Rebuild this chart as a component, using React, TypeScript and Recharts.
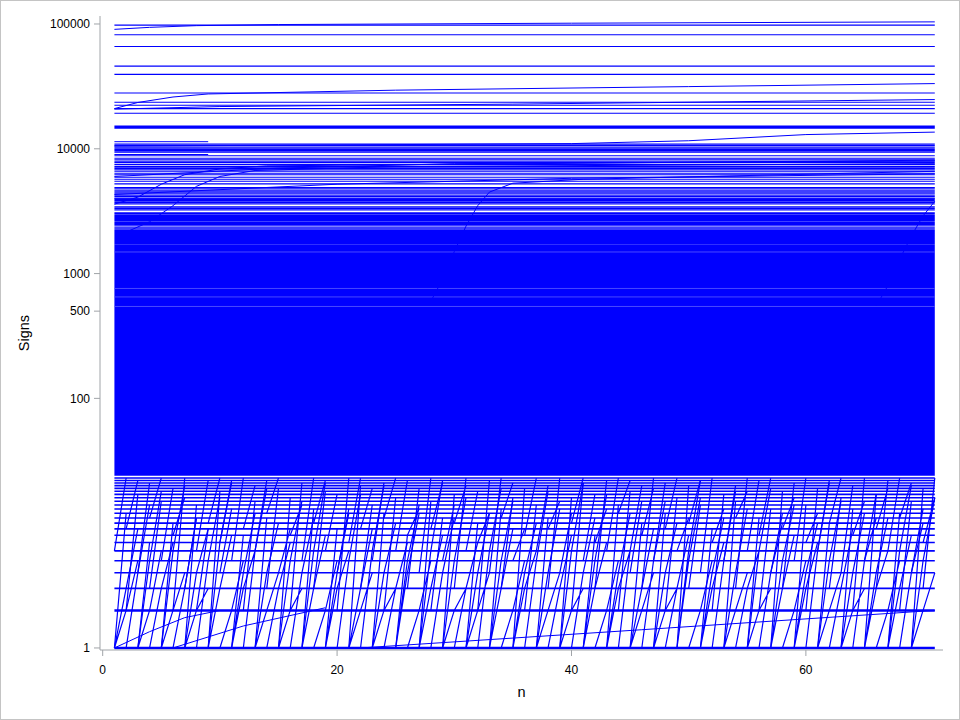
import { Area, ComposedChart, Line, ReferenceArea, XAxis, YAxis } from "recharts";

const X_TICKS = [0, 20, 40, 60];
const Y_TICKS = [1, 100, 500, 1000, 10000, 100000];

// flat series, values (n = 1..71)
const topLevels = [
  98000, 82000, 66000, 46000, 39500, 28000, 23600, 22300, 21000, 19250, 15200, 14900, 14600,
  10900, 10600, 10300, 10000, 9800, 9600, 9380, 8800, 8400, 8170, 7950, 7740, 7460, 7190, 7000,
  6950, 6800, 6600, 6370, 6200, 5910, 5700, 5500, 5230, 4900, 4780, 4650, 4520, 4400, 4250, 4140,
  4020,
];
const shortLevels = [11400, 9000]; // stop at n = 9
const midLevels = [
  1720, 1750, 1770, 1810, 1850, 1890, 1935, 1980, 2020, 2070, 2120, 2170, 2220, 2280, 2360, 2450,
  2510, 2570, 2640, 2700, 2770, 2840, 2910, 2990, 3070, 3240, 3330, 3420, 3620, 3730, 3850, 3960,
];
const paleLevels = [1490, 760, 650, 545];
const lowLevelsThick = [1, 2];
const lowLevels = [3, 4, 5, 6, 7, 8, 9, 10, 11, 12, 13, 14, 15, 16, 17, 18, 19, 20, 21, 22, 23];
const denseBand = [24, 1700];

// rising series: [n, signs]
const riseA = [[1, 90600], [4, 94000], [8, 97000], [15, 99000], [40, 101500], [71, 104000]];
const riseB = [[1, 21000], [3, 23500], [6, 26000], [9, 27500], [25, 29500], [50, 31500], [71, 33300]];
const riseC = [[1, 20800], [10, 21800], [35, 22800], [71, 24800]];
const riseD = [[1, 10500], [40, 11000], [50, 11600], [60, 13000], [71, 13600]];
const riseE = [[1, 3600], [3, 4100], [5, 5200], [7, 6200], [10, 6900], [14, 7300], [71, 8100]];
const riseF = [[2, 2150], [4, 2600], [6, 3500], [8, 5000], [10, 6000], [13, 6700], [25, 7200], [71, 7600]];
const riseG = [[28, 600], [29, 900], [30, 1500], [31, 2400], [32, 3500], [33, 4500], [35, 5300], [41, 5700], [71, 6600]];
const riseH = [[66, 550], [67, 800], [68, 1300], [69, 2000], [70, 2900], [71, 3800]];
const riseI = [[1, 6000], [15, 7000], [30, 7600], [71, 8000]];
const riseJ = [[1, 4300], [20, 5200], [40, 5800], [71, 6300]];
const creepA = [[1, 1], [4, 1.35], [7, 1.75], [10, 2]];
const creepB = [[6, 1], [12, 1.5], [19, 2.1]];
const creepC = [[22, 1], [46, 1.4], [71, 2]];

// short climbs from 1: [start n, value at n+1, value at n+2]
const climbs = [
  [1, 3, 9], [1, 2, 5], [2, 4, 14], [3, 2, 6], [3, 5, 18], [4, 3, 7], [5, 2, 4], [5, 6, 20],
  [6, 3, 11], [7, 4, 9], [7, 2, 3], [8, 5, 16], [9, 3, 8], [9, 7, 22], [10, 2, 5], [11, 4, 12],
  [11, 3, 6], [12, 6, 19], [13, 2, 4], [13, 4, 10], [14, 3, 7], [15, 5, 15], [15, 2, 3], [16, 4, 11],
  [17, 3, 8], [17, 6, 21], [18, 2, 5], [19, 4, 13], [19, 3, 6], [20, 5, 17], [21, 2, 4], [21, 3, 9],
  [22, 6, 20], [23, 4, 10], [23, 2, 3], [24, 3, 7], [25, 5, 14], [25, 4, 12], [26, 2, 5], [27, 3, 8],
  [27, 6, 22], [28, 4, 11], [29, 2, 3], [29, 5, 16], [30, 3, 7], [31, 4, 12], [31, 2, 4], [32, 6, 19],
  [33, 3, 9], [33, 5, 15], [34, 2, 5], [35, 4, 10], [35, 3, 6], [36, 5, 18], [37, 2, 4], [37, 4, 13],
  [38, 3, 8], [39, 6, 21], [39, 2, 3], [40, 4, 11], [41, 3, 7], [41, 5, 17], [42, 2, 5], [43, 4, 12],
  [43, 3, 6], [44, 6, 20], [45, 2, 4], [45, 3, 9], [46, 5, 15], [47, 4, 10], [47, 2, 3], [48, 3, 8],
  [49, 5, 16], [49, 6, 22], [50, 2, 5], [51, 4, 11], [51, 3, 7], [52, 5, 18], [53, 2, 4], [53, 4, 13],
  [54, 3, 6], [55, 6, 19], [55, 2, 3], [56, 4, 12], [57, 3, 8], [57, 5, 14], [58, 2, 5], [59, 4, 10],
  [59, 3, 7], [60, 6, 21], [61, 2, 4], [61, 5, 15], [62, 3, 9], [63, 4, 12], [63, 2, 3], [64, 5, 17],
  [65, 3, 6], [65, 4, 11], [66, 2, 5], [67, 6, 20], [67, 3, 8], [68, 4, 10], [69, 2, 4], [69, 5, 16],
];

// one-step jumps: [start n, value at n, value at n+1]
const jumps = [
  [1, 1, 12], [1, 6, 23], [2, 2, 17], [2, 9, 22], [3, 1, 7], [3, 4, 21], [4, 3, 15], [4, 11, 23],
  [5, 1, 10], [5, 5, 19], [6, 2, 23], [6, 8, 16], [7, 1, 14], [7, 3, 11], [8, 6, 22], [8, 2, 9],
  [9, 1, 18], [9, 10, 23], [10, 4, 13], [10, 7, 21], [11, 1, 8], [11, 5, 23], [12, 2, 15], [12, 9, 20],
  [13, 1, 11], [13, 6, 22], [14, 3, 19], [14, 12, 23], [15, 1, 16], [15, 4, 9], [16, 2, 21], [16, 8, 14],
  [17, 1, 13], [17, 5, 23], [18, 3, 18], [18, 10, 22], [19, 1, 9], [19, 6, 17], [20, 2, 23], [20, 4, 12],
  [21, 1, 20], [21, 7, 23], [22, 3, 14], [22, 9, 19], [23, 1, 12], [23, 5, 21], [24, 2, 16], [24, 11, 23],
  [25, 1, 8], [25, 6, 22], [26, 3, 19], [26, 8, 13], [27, 1, 15], [27, 4, 23], [28, 2, 11], [28, 9, 21],
  [29, 1, 17], [29, 5, 14], [30, 3, 23], [30, 10, 20], [31, 1, 10], [31, 6, 18], [32, 2, 22], [32, 7, 12],
  [33, 1, 13], [33, 4, 23], [34, 3, 16], [34, 11, 21], [35, 1, 19], [35, 5, 9], [36, 2, 14], [36, 8, 23],
  [37, 1, 11], [37, 6, 20], [38, 3, 23], [38, 9, 15], [39, 1, 16], [39, 4, 12], [40, 2, 21], [40, 10, 23],
  [41, 1, 8], [41, 5, 17], [42, 3, 22], [42, 7, 13], [43, 1, 14], [43, 6, 23], [44, 2, 18], [44, 12, 22],
  [45, 1, 10], [45, 4, 15], [46, 3, 23], [46, 8, 19], [47, 1, 12], [47, 5, 21], [48, 2, 16], [48, 9, 23],
  [49, 1, 20], [49, 6, 11], [50, 3, 14], [50, 10, 22], [51, 1, 9], [51, 4, 23], [52, 2, 17], [52, 7, 13],
  [53, 1, 15], [53, 5, 20], [54, 3, 23], [54, 11, 18], [55, 1, 11], [55, 6, 22], [56, 2, 13], [56, 8, 23],
  [57, 1, 18], [57, 4, 10], [58, 3, 21], [58, 9, 16], [59, 1, 14], [59, 5, 23], [60, 2, 19], [60, 7, 12],
  [61, 1, 10], [61, 6, 22], [62, 3, 16], [62, 10, 23], [63, 1, 13], [63, 4, 20], [64, 2, 23], [64, 8, 15],
  [65, 1, 17], [65, 5, 11], [66, 3, 22], [66, 9, 19], [67, 1, 12], [67, 6, 23], [68, 2, 15], [68, 11, 21],
  [69, 1, 19], [69, 4, 13], [70, 3, 23], [70, 7, 16],
];

const BLUE = "#0000ff";
const PALE = "#5a5aff";
const AXIS = "#a0a4a8";
const FONT = "'Liberation Sans', Arial, sans-serif";

const flat = (levels: number[], from = 1, to = 71) =>
  levels.flatMap((v) => [{ n: from, v }, { n: to, v }, { n: to, v: null }]);
const pts = (p: number[][]) => p.map(([n, v]) => ({ n, v }));
const climbData = climbs.flatMap(([s, a, b]) => [
  { n: s, v: 1 },
  { n: s + 1, v: a },
  { n: s + 2, v: b },
  { n: s + 2, v: null },
]);
const jumpData = jumps.flatMap(([s, a, b]) => [
  { n: s, v: a },
  { n: s + 1, v: b },
  { n: s + 1, v: null },
]);
const bandData = [{ n: 1, band: denseBand }, { n: 71, band: denseBand }];

const curves = [riseA, riseB, riseC, riseD, riseE, riseF, riseG, riseH, riseI, riseJ, creepA, creepB, creepC];

function line(key: string, data: any[], width = 1, color = BLUE) {
  return (
    <Line
      key={key}
      data={data}
      dataKey="v"
      type="linear"
      stroke={color}
      strokeWidth={width}
      dot={false}
      activeDot={false}
      connectNulls={false}
      isAnimationActive={false}
    />
  );
}

export default function App() {
  return (
    <div
      style={{
        position: "fixed",
        left: 0,
        top: 0,
        width: 960,
        height: 720,
        boxSizing: "border-box",
        border: "1px solid #c4c4c4",
        background: "#fff",
        fontFamily: FONT,
      }}
    >
      <ComposedChart width={958} height={718} margin={{ top: 15, right: 16, bottom: 39, left: 0 }}>
        <XAxis
          type="number"
          dataKey="n"
          domain={[-0.23, 71.7]}
          ticks={X_TICKS}
          allowDataOverflow
          height={30}
          tickSize={6}
          tickMargin={9}
          stroke={AXIS}
          tick={{ fill: "#000", fontSize: 12, fontFamily: FONT }}
          label={{
            content: ({ viewBox }: any) => (
              <text
                x={viewBox.x + viewBox.width / 2}
                y={viewBox.y + viewBox.height + 17}
                textAnchor="middle"
                fontSize={14.5}
                fontFamily={FONT}
                fill="#000"
              >
                n
              </text>
            ),
          }}
        />
        <YAxis
          type="number"
          scale="log"
          domain={[0.963, 115900]}
          ticks={Y_TICKS}
          allowDataOverflow
          width={99}
          tickSize={6}
          tickMargin={4}
          stroke={AXIS}
          tick={{ fill: "#000", fontSize: 12, fontFamily: FONT }}
          label={{
            content: ({ viewBox }: any) => {
              const x = viewBox.x + 27.7;
              const y = viewBox.y + viewBox.height / 2;
              return (
                <text
                  x={x}
                  y={y}
                  transform={`rotate(-90 ${x} ${y})`}
                  textAnchor="middle"
                  fontSize={14.5}
                  fontFamily={FONT}
                  fill="#000"
                >
                  Signs
                </text>
              );
            },
          }}
        />
        <Area
          data={bandData}
          dataKey="band"
          type="linear"
          stroke="none"
          fill={BLUE}
          fillOpacity={1}
          isAnimationActive={false}
        />
        {line("pale", flat(paleLevels), 0.8, PALE)}
        {line("top", flat(topLevels), 1.1)}
        {line("short", flat(shortLevels, 1, 9))}
        {line("mid", flat(midLevels), 1.3)}
        {line("lowThick", flat(lowLevelsThick), 2.5)}
        {line("low", flat(lowLevels), 1.6)}
        {line("climbs", climbData, 1.2)}
        {line("jumps", jumpData, 1.2)}
        {curves.map((c, i) => line(`curve${i}`, pts(c), 1))}
        <ReferenceArea fill="none" stroke={AXIS} strokeWidth={1} ifOverflow="visible" />
      </ComposedChart>
    </div>
  );
}
